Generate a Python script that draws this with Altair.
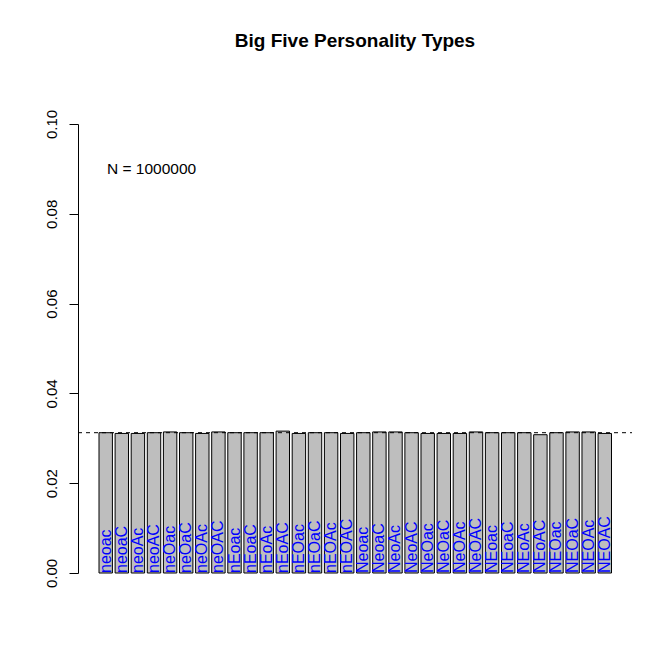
import altair as alt
import pandas as pd

# Data
labels = ["neoac", "neoaC", "neoAc", "neoAC", "neOac", "neOaC", "neOAc", "neOAC",
          "nEoac", "nEoaC", "nEoAc", "nEoAC", "nEOac", "nEOaC", "nEOAc", "nEOAC",
          "Neoac", "NeoaC", "NeoAc", "NeoAC", "NeOac", "NeOaC", "NeOAc", "NeOAC",
          "NEoac", "NEoaC", "NEoAc", "NEoAC", "NEOac", "NEOaC", "NEOAc", "NEOAC"]
proportions = [0.03125, 0.03108, 0.03108, 0.03125, 0.03142, 0.03125, 0.03108, 0.03142,
               0.03125, 0.03125, 0.03125, 0.03160, 0.03108, 0.03125, 0.03125, 0.03108,
               0.03125, 0.03142, 0.03142, 0.03125, 0.03108, 0.03108, 0.03108, 0.03142,
               0.03125, 0.03125, 0.03125, 0.03080, 0.03125, 0.03142, 0.03142, 0.03108]
expected = 1 / 32
y_ticks = [0.00, 0.02, 0.04, 0.06, 0.08, 0.10]
note = "N = 1000000"
title_text = "Big Five Personality Types"

df = pd.DataFrame({"label": labels, "p": proportions})

W, H = 554, 449
FONT = "Liberation Sans"

xscale = alt.Scale(domain=labels, paddingInner=1 / 6, paddingOuter=0, range=[21, 533.5])
yscale = alt.Scale(domain=[0, 0.1], nice=False, zero=True)

base = alt.Chart(df)

bars = base.mark_bar(fill="#BEBEBE", stroke="black", strokeWidth=1).encode(
    x=alt.X("label:N", sort=labels, scale=xscale, axis=None),
    y=alt.Y("p:Q", scale=yscale, title=None,
            axis=alt.Axis(values=y_ticks, format=".2f", labelAngle=270,
                          labelAlign="center", labelBaseline="alphabetic",
                          labelPadding=13, tickSize=9, tickColor="black",
                          domainColor="black", labelColor="black",
                          labelFont=FONT, labelFontSize=15, grid=False,
                          labelFlush=False, labelOverlap=False, labelBound=False)),
)

texts = base.mark_text(angle=270, align="left", baseline="middle", color="#0000FF",
                       font=FONT, fontSize=16).encode(
    x=alt.X("label:N", sort=labels, scale=xscale, axis=None),
    y=alt.datum(0.0),
    text="label:N",
)

ref = alt.Chart(pd.DataFrame({"v": [expected]})).mark_rule(
    color="black", strokeDash=[4, 4], strokeWidth=1).encode(
    y=alt.Y("v:Q", scale=yscale),
    x=alt.value(0), x2=alt.value(W),
)

ntext = alt.Chart(pd.DataFrame({"t": [note], "y": [0.09]})).mark_text(
    align="left", baseline="middle", font=FONT, fontSize=15.5, color="black").encode(
    x=alt.value(29),
    y=alt.Y("y:Q", scale=yscale),
    text="t:N",
)

chart = alt.layer(bars, texts, ref, ntext).properties(
    width=W, height=H,
    background="white",
    title=alt.TitleParams(title_text, font=FONT, fontSize=19, fontWeight="bold",
                          anchor="middle", frame="group", offset=58, color="black"),
    autosize=alt.AutoSizeParams(type="none"),
    padding={"left": 70, "top": 116, "right": 24, "bottom": 82},
).configure_view(stroke=None, strokeWidth=0)

chart.save("out.html", embed_options={"renderer": "svg", "actions": False})
